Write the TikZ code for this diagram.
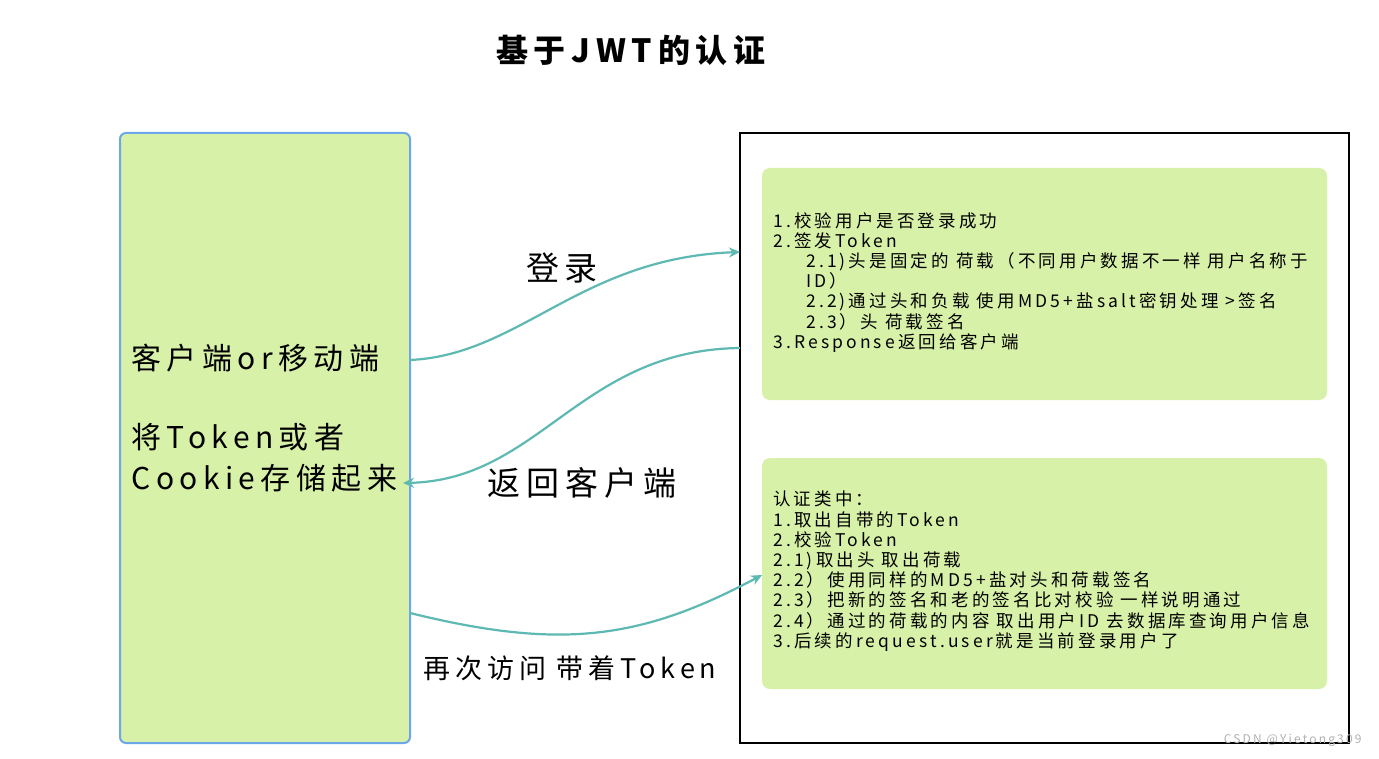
\documentclass[tikz,border=0pt]{standalone}
\usepackage{fontspec}
\setmainfont[LetterSpace=18]{Noto Sans CJK SC}
\usetikzlibrary{arrows.meta}
\definecolor{lgreen}{HTML}{D8F1A8}
\definecolor{bblue}{HTML}{6CA8E8}
\definecolor{teal}{HTML}{5DB9B2}
\tikzset{x=1pt,y=-1pt,
 conn/.style={teal,line width=2.2pt,-{Stealth[length=11pt,width=10pt]}},
 boxtxt/.style={anchor=north west,align=left,font=\fontsize{17.5}{20.2}\selectfont,inner sep=0pt}}
\begin{document}
\begin{tikzpicture}
\useasboundingbox (0,0) rectangle (1379,759);
\fill[white] (0,0) rectangle (1379,759);
\node[font=\bfseries\fontsize{32}{36}\selectfont] (title) at (631,50) {基于JWT的认证};
\draw[bblue,line width=2pt,fill=lgreen,rounded corners=6pt] (120,133) rectangle (410,743);
\node[anchor=west,font=\fontsize{30}{34}\selectfont] (c1) at (128,358) {客户端or移动端};
\node[anchor=west,align=left,font=\fontsize{30}{41}\selectfont] (c2) at (128,458) {将Token或者\\Cookie存储起来};
\draw[black,line width=2.4pt] (740,133) rectangle (1349,743);
\fill[lgreen,rounded corners=8pt] (762,168) rectangle (1327,400);
\fill[lgreen,rounded corners=8pt] (762,458) rectangle (1327,689);
\node[boxtxt] (t1) at (773,212) {1.校验用户是否登录成功\\2.签发Token\\\hspace*{33pt}2.1)头是固定的 荷载（不同用户数据不一样 用户名称于\\\hspace*{33pt}ID）\\\hspace*{33pt}2.2)通过头和负载 使用MD5+盐salt密钥处理 >签名\\\hspace*{33pt}2.3）头 荷载签名\\3.Response返回给客户端};
\node[boxtxt] (t2) at (773,491) {认证类中：\\1.取出自带的Token\\2.校验Token\\2.1)取出头 取出荷载\\2.2）使用同样的MD5+盐对头和荷载签名\\2.3）把新的签名和老的签名比对校验 一样说明通过\\2.4）通过的荷载的内容 取出用户ID 去数据库查询用户信息\\3.后续的request.user就是当前登录用户了};
\coordinate (a1s) at (410,360);
\coordinate (a1e) at (740,252);
\coordinate (a2s) at (740,348);
\coordinate (a2e) at (403,483);
\coordinate (a3s) at (410,613);
\coordinate (a3e) at (762,575);
\draw[conn] (a1s) .. controls (520,355) and (580,258) .. (a1e);
\draw[conn] (a2s) .. controls (580,350) and (540,480) .. (a2e);
\draw[conn] (a3s) .. controls (560,650) and (640,640) .. (a3e);
\node[font=\fontsize{33}{36}\selectfont] (l1) at (562,268) {登录};
\node[font=\fontsize{33}{36}\selectfont] (l2) at (582,483) {返回客户端};
\node[font=\fontsize{27}{30}\selectfont] (l3) at (570,668) {再次访问 带着Token};
\node[anchor=east,text=gray!60,font=\fontsize{12}{14}\selectfont] (wm) at (1365,740) {CSDN @Yietong309};
\end{tikzpicture}
\end{document}
